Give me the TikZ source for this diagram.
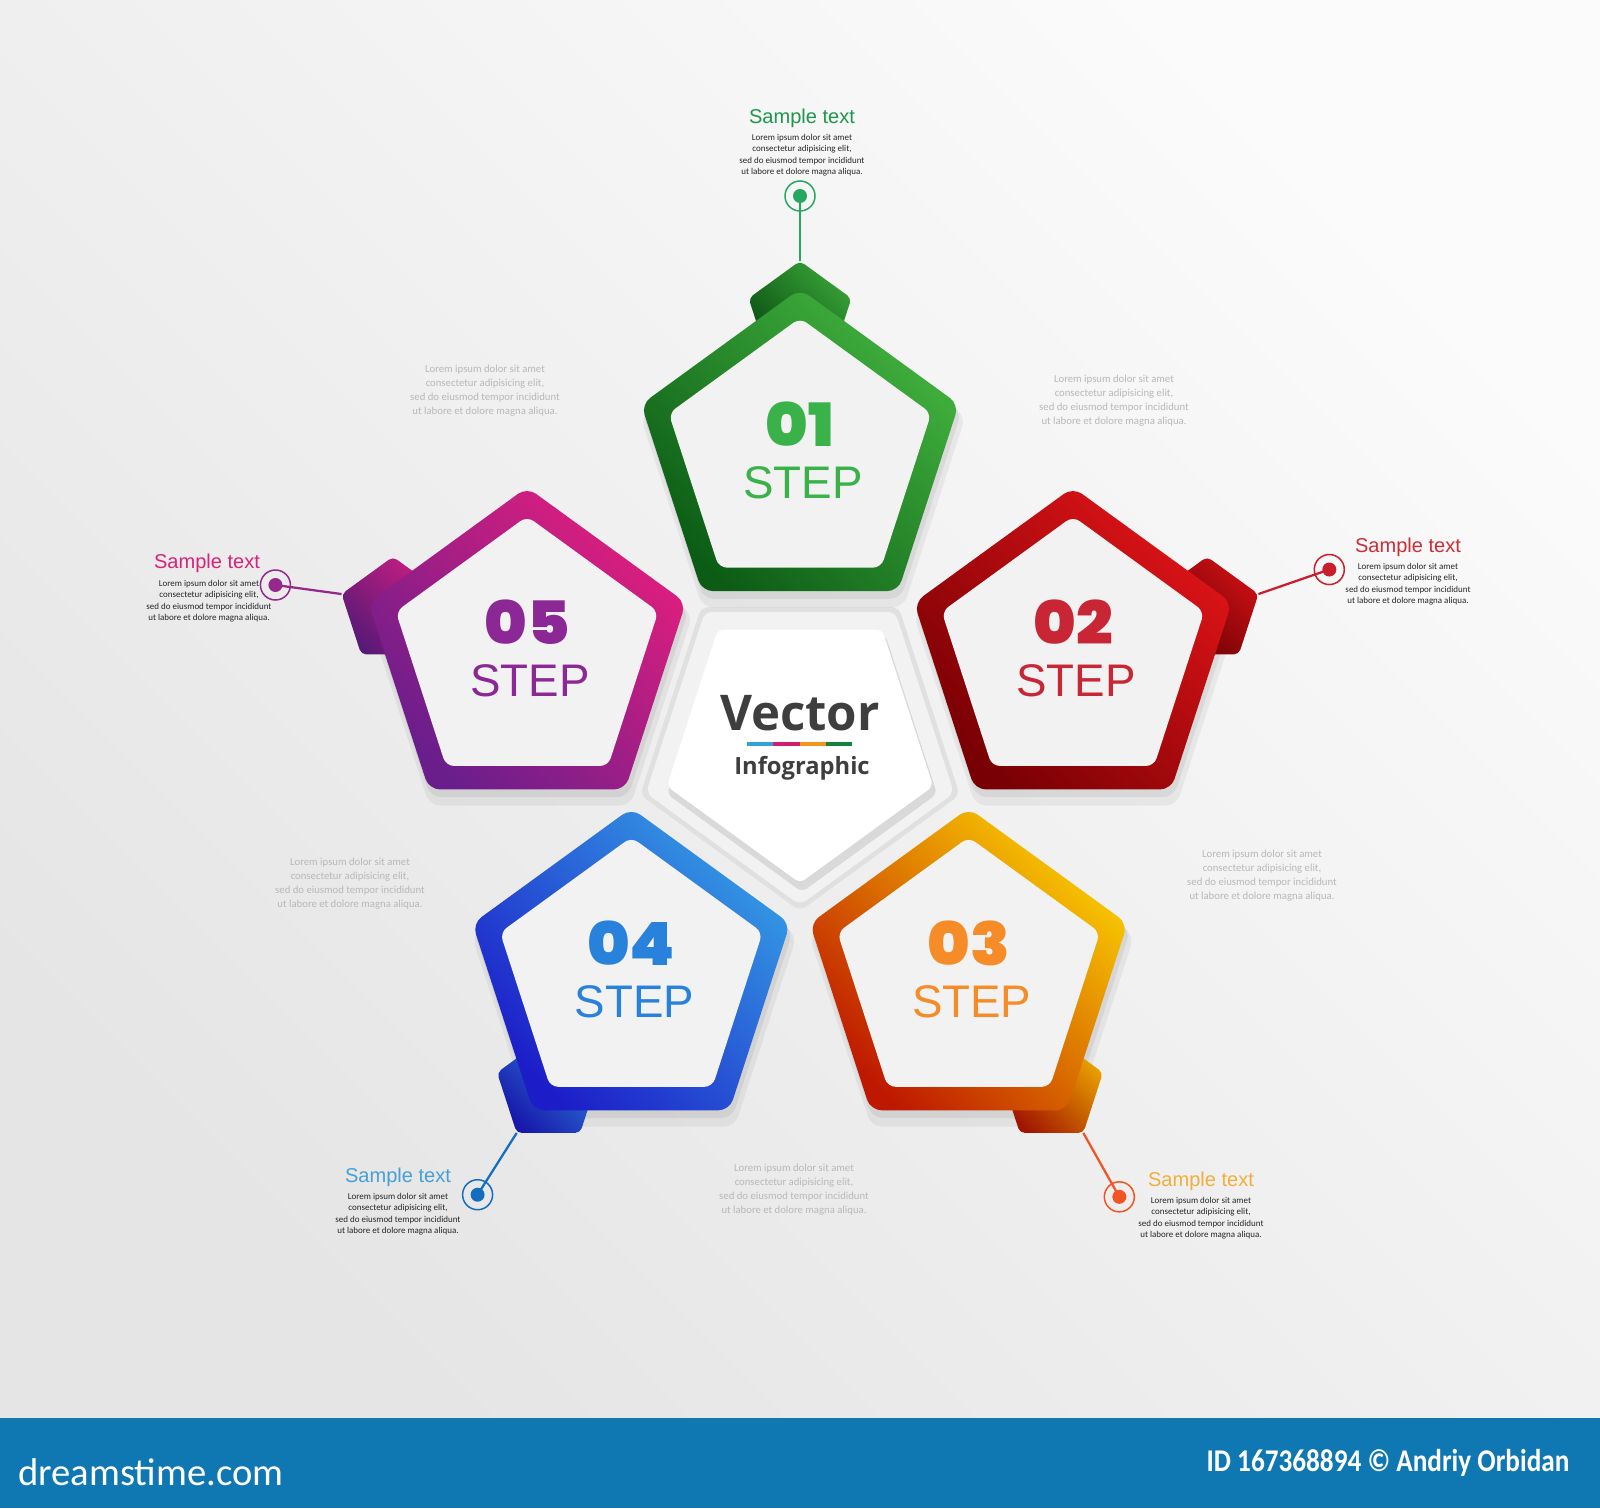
\documentclass[tikz,border=0pt]{standalone}
\usepackage{fontspec}
\setmainfont{Liberation Sans}
\newfontfamily\loremfont{Carlito}
\newfontfamily\headfont{Open Sans}
\newfontfamily\numfont{Poppins Black}[FakeStretch=1.08]
\usetikzlibrary{calc}

\definecolor{bgdark}{RGB}{229,229,229}
\definecolor{bglight}{RGB}{251,251,251}
\definecolor{panel}{RGB}{242,242,242}
\definecolor{band}{RGB}{15,119,177}
\definecolor{inkgray}{RGB}{62,62,62}
% green
\definecolor{gDark}{RGB}{12,92,22}
\definecolor{gLight}{RGB}{66,178,62}
\definecolor{gText}{RGB}{58,178,74}
\definecolor{gDot}{RGB}{38,168,98}
\definecolor{gHead}{RGB}{30,150,75}
% red
\definecolor{rDark}{RGB}{120,0,4}
\definecolor{rLight}{RGB}{222,20,24}
\definecolor{rText}{RGB}{200,38,52}
\definecolor{rDot}{RGB}{200,30,45}
\definecolor{rHead}{RGB}{205,45,55}
% orange
\definecolor{oDark}{RGB}{190,25,0}
\definecolor{oLight}{RGB}{250,205,0}
\definecolor{oText}{RGB}{245,140,40}
\definecolor{oDot}{RGB}{240,85,35}
\definecolor{oHead}{RGB}{240,175,60}
% blue
\definecolor{bDark}{RGB}{28,28,200}
\definecolor{bLight}{RGB}{52,155,228}
\definecolor{bText}{RGB}{40,130,220}
\definecolor{bDot}{RGB}{20,110,190}
\definecolor{bHead}{RGB}{70,160,215}
% purple
\definecolor{pDark}{RGB}{105,30,140}
\definecolor{pLight}{RGB}{225,30,125}
\definecolor{pText}{RGB}{140,40,150}
\definecolor{pDot}{RGB}{150,40,140}
\definecolor{pHead}{RGB}{215,35,120}
% underline bar
\definecolor{barblue}{RGB}{50,160,220}
\definecolor{barpink}{RGB}{210,30,110}
\definecolor{barorange}{RGB}{240,150,30}
\definecolor{bargreen}{RGB}{20,130,60}

\newcommand{\penta}[1]{(90:#1) -- (162:#1) -- (234:#1) -- (306:#1) -- (18:#1) -- cycle}
\newcommand{\pentadown}[1]{(270:#1) -- (342:#1) -- (54:#1) -- (126:#1) -- (198:#1) -- cycle}
\newcommand{\loremtext}{Lorem ipsum dolor sit amet\\consectetur adipisicing elit,\\sed do eiusmod tempor incididunt\\ut labore et dolore magna aliqua.}

\tikzset{every node/.style={inner sep=0pt},
  sample/.style={font=\fontsize{11.4}{12}\selectfont},
  lorem/.style={font=\loremfont\fontsize{5.1}{6.5}\selectfont, align=center, text=black!85},
  lorem faint/.style={font=\loremfont\fontsize{6.1}{8}\selectfont, align=center, text=black!28},
  steplabel/.style={font=\fontsize{26}{26}\selectfont, text height=18.6pt, text depth=0pt},
  stepnum/.style={font=\numfont\fontsize{34}{34}\selectfont, text height=24pt, text depth=0pt},
  ring/.style={circle, draw, line width=0.3mm, minimum size=6mm}}

\begin{document}
\begin{tikzpicture}[x=0.2mm, y=0.2mm]
  \useasboundingbox (0,0) rectangle (1600,1508);
  \shade[left color=bgdark, right color=bglight, shading angle=135] (0,90) rectangle (1600,1508);
  \fill[band] (0,0) rectangle (1600,90);
  \coordinate (cen) at (800,765);

  % centre plate
  \begin{scope}[shift={(cen)}]
   \fill[black!12, rounded corners=1.5mm] \pentadown{168};
   \fill[black!5, rounded corners=1.5mm] \pentadown{162};
   \fill[black, opacity=0.1, rounded corners=1.2mm, shift={(2,-7)}] \pentadown{142};
   \fill[white, rounded corners=1.2mm] \pentadown{140};
  \end{scope}

  % the five steps
  \foreach \ang/\stepno/\dk/\lt/\tc/\dc/\dang/\dlen in {90/01/gDark/gLight/gText/gDot/90/260,
      18/02/rDark/rLight/rText/rDot/18.3/270, -54/03/oDark/oLight/oText/oDot/-55.8/268,
      -126/04/bDark/bLight/bText/bDot/-125/268, 162/05/pDark/pLight/pText/pDot/164.6/261}{
   \begin{scope}[shift={($(cen)+(\ang:287)$)}]
    \fill[black, opacity=0.05, rounded corners=2.2mm, shift={(3,-13)}] \penta{171};
    \fill[black, opacity=0.06, rounded corners=2.2mm, shift={(2,-7)}] \penta{168};
    \shade[left color=\dk!85!black, right color=\lt!80!\dk, shading angle=135,
           rounded corners=1mm, shift={(\ang:141)}] \penta{54};
    \shade[left color=\dk, right color=\lt, shading angle=135, rounded corners=2.2mm] \penta{167};
    \fill[panel, rounded corners=1.6mm] \penta{138};
    \coordinate (tip\stepno) at (\ang:195);
    \node[ring, draw=\dc] (dot\stepno) at (\dang:\dlen) {};
    \draw[\dc, line width=0.45mm] (tip\stepno) -- (dot\stepno.center);
    \fill[\dc] (dot\stepno.center) circle (1.4mm);
    \node[stepnum, text=\tc] (num\stepno) at (0,31) {\stepno};
    \node[steplabel, text=\tc] (lbl\stepno) at (3,-26) {STEP};
   \end{scope}
  }

  % captions at the rings
  \node[sample, text=gHead] (head01) at (802,1390) {Sample text};
  \node[lorem] (body01) at (802,1353) {\loremtext};
  \node[sample, text=rHead] (head02) at (1408,961) {Sample text};
  \node[lorem] (body02) at (1408,924) {\loremtext};
  \node[sample, text=oHead] (head03) at (1201,327) {Sample text};
  \node[lorem] (body03) at (1201,290) {\loremtext};
  \node[sample, text=bHead] (head04) at (398,331) {Sample text};
  \node[lorem] (body04) at (398,294) {\loremtext};
  \node[sample, text=pHead] (head05) at (207,945) {Sample text};
  \node[lorem] (body05) at (209,907) {\loremtext};

  % faint notes between the steps
  \node[lorem faint] (note1) at (485,1117) {\loremtext};
  \node[lorem faint] (note2) at (1114,1107) {\loremtext};
  \node[lorem faint] (note3) at (1262,632) {\loremtext};
  \node[lorem faint] (note4) at (350,624) {\loremtext};
  \node[lorem faint] (note5) at (794,318) {\loremtext};

  % centre title
  \node[font=\headfont\bfseries\fontsize{28}{28}\selectfont, text=inkgray] (vec) at (800,795) {Vector};
  \node[font=\headfont\bfseries\fontsize{13.5}{14}\selectfont, text=inkgray] (info) at (802,740) {Infographic};
  \foreach \c [count=\i from 0] in {barblue,barpink,barorange,bargreen}
    \draw[\c, line width=0.8mm] (747+\i*26.3,764) -- (773.3+\i*26.3,764);

  % footer
  \node[font=\loremfont\fontsize{22}{22}\selectfont, text=white] (site) at (151,36) {dreamstime.com};
  \node[font=\loremfont\bfseries\fontsize{18}{18}\selectfont, text=white, xscale=0.86, transform shape] (credit) at (1388,45) {ID 167368894 © Andriy Orbidan};
\end{tikzpicture}
\end{document}
